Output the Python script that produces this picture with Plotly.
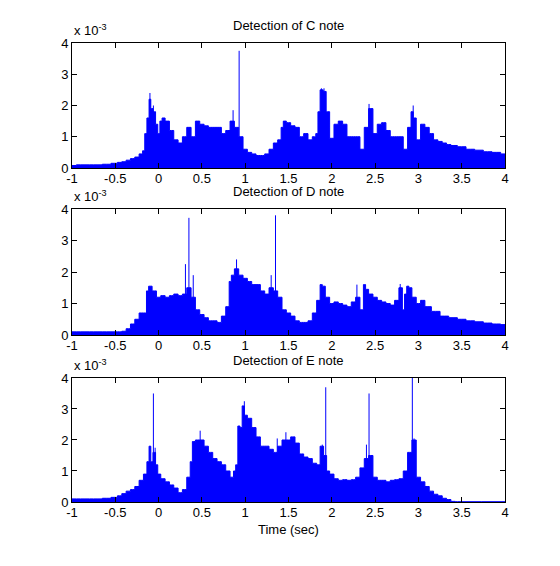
import plotly.graph_objects as go

# amplitudes in units of 1e-3 (axis label carries the x 10^-3)
x_ticks = [-1, -0.5, 0, 0.5, 1, 1.5, 2, 2.5, 3, 3.5, 4]
x_tick_text = ['-1', '-0.5', '0', '0.5', '1', '1.5', '2', '2.5', '3', '3.5', '4']
y_ticks = [0, 1, 2, 3, 4]

# --- C note ---
t_c = [-1.0, -0.9, -0.8, -0.7, -0.6, -0.5, -0.45, -0.4, -0.35, -0.3,
       -0.25, -0.2, -0.17, -0.15, -0.12, -0.1, -0.08, -0.05, -0.02, 0.0,
       0.03, 0.05, 0.1, 0.15, 0.2, 0.25, 0.3, 0.35, 0.4, 0.45,
       0.5, 0.55, 0.6, 0.65, 0.7, 0.75, 0.8, 0.85, 0.9, 0.95,
       1.0, 1.05, 1.1, 1.15, 1.2, 1.25, 1.3, 1.35, 1.4, 1.43,
       1.45, 1.5, 1.55, 1.6, 1.65, 1.7, 1.75, 1.8, 1.83, 1.85,
       1.88, 1.92, 1.95, 2.0, 2.05, 2.1, 2.15, 2.2, 2.25, 2.3,
       2.35, 2.4, 2.45, 2.5, 2.55, 2.6, 2.65, 2.7, 2.75, 2.8,
       2.85, 2.9, 2.93, 2.95, 3.0, 3.05, 3.1, 3.15, 3.2, 3.25,
       3.3, 3.35, 3.4, 3.5, 3.6, 3.7, 3.8, 3.9, 4.0]
c_env = [0.08, 0.1, 0.1, 0.1, 0.12, 0.15, 0.18, 0.2, 0.25, 0.3,
         0.35, 0.45, 0.55, 1.1, 1.6, 2.2, 1.9, 1.8, 1.4, 1.1,
         1.5, 1.6, 1.5, 1.2, 0.9, 0.8, 1.0, 1.3, 1.0, 1.5,
         1.4, 1.35, 1.3, 1.3, 1.3, 1.1, 1.2, 1.5, 1.3, 1.0,
         0.6, 0.5, 0.45, 0.4, 0.4, 0.45, 0.6, 0.8, 0.9, 1.3,
         1.5, 1.45, 1.35, 1.3, 1.0, 1.1, 0.9, 1.0, 1.1, 1.8,
         2.5, 2.45, 1.8, 0.95, 1.4, 1.5, 1.4, 1.0, 1.0, 1.0,
         0.6, 1.3, 1.9, 1.1, 1.4, 1.45, 1.2, 1.0, 1.0, 1.0,
         0.6, 1.3, 1.8, 1.6, 0.9, 1.4, 1.3, 1.1, 0.9, 0.85,
         0.8, 0.75, 0.72, 0.68, 0.6, 0.57, 0.52, 0.5, 0.45]
c_spike_t = [-0.1, -0.06, 0.86, 0.93, 1.88, 1.91, 2.43, 2.94]
c_spike_v = [2.4, 2.0, 1.85, 3.75, 2.55, 2.55, 2.05, 2.0]

# --- D note ---
t_d = [-1.0, -0.9, -0.8, -0.7, -0.6, -0.5, -0.45, -0.4, -0.35, -0.3,
       -0.25, -0.2, -0.15, -0.13, -0.1, -0.05, 0.0, 0.05, 0.1, 0.15,
       0.2, 0.25, 0.3, 0.35, 0.4, 0.45, 0.5, 0.55, 0.6, 0.65,
       0.7, 0.75, 0.8, 0.83, 0.85, 0.9, 0.95, 1.0, 1.05, 1.1,
       1.15, 1.2, 1.25, 1.3, 1.35, 1.4, 1.45, 1.5, 1.55, 1.6,
       1.65, 1.7, 1.75, 1.8, 1.85, 1.88, 1.9, 1.95, 2.0, 2.05,
       2.1, 2.15, 2.2, 2.25, 2.3, 2.35, 2.38, 2.4, 2.45, 2.5,
       2.55, 2.6, 2.65, 2.7, 2.75, 2.8, 2.83, 2.85, 2.88, 2.9,
       2.95, 3.0, 3.05, 3.1, 3.2, 3.3, 3.4, 3.5, 3.6, 3.7,
       3.8, 3.9, 4.0]
d_env = [0.1, 0.1, 0.1, 0.1, 0.1, 0.1, 0.1, 0.12, 0.2, 0.35,
         0.5, 0.7, 0.7, 1.4, 1.55, 1.4, 1.2, 1.25, 1.2, 1.25,
         1.3, 1.25, 1.3, 1.5, 1.2, 0.8, 0.65, 0.55, 0.45, 0.45,
         0.4, 0.6, 0.9, 1.7, 1.9, 2.1, 1.9, 1.8, 1.7, 1.6,
         1.6, 1.4, 1.3, 1.5, 1.4, 1.2, 0.8, 0.7, 0.6, 0.45,
         0.4, 0.4, 0.45, 0.7, 1.1, 1.6, 1.55, 1.2, 1.0, 1.05,
         1.0, 0.95, 0.9, 1.05, 1.2, 0.8, 1.6, 1.45, 1.3, 1.2,
         1.1, 1.05, 1.0, 0.95, 1.1, 1.5, 0.8, 1.3, 1.55, 1.5,
         1.2, 1.0, 1.1, 0.9, 0.75, 0.6, 0.55, 0.5, 0.45, 0.42,
         0.38, 0.35, 0.33]
d_spike_t = [0.31, 0.35, 0.4, 0.9, 1.3, 1.35, 2.29, 2.79]
d_spike_v = [2.25, 3.72, 1.9, 2.4, 1.9, 3.8, 1.6, 1.62]

# --- E note ---
t_e = [-1.0, -0.9, -0.8, -0.7, -0.6, -0.5, -0.45, -0.4, -0.35, -0.3,
       -0.25, -0.2, -0.15, -0.12, -0.1, -0.08, -0.05, -0.02, 0.0, 0.05,
       0.1, 0.15, 0.2, 0.25, 0.3, 0.35, 0.38, 0.4, 0.45, 0.5,
       0.55, 0.6, 0.65, 0.7, 0.75, 0.8, 0.85, 0.88, 0.9, 0.93,
       0.95, 0.98, 1.0, 1.05, 1.1, 1.15, 1.2, 1.25, 1.3, 1.35,
       1.4, 1.45, 1.5, 1.55, 1.6, 1.65, 1.7, 1.75, 1.8, 1.85,
       1.88, 1.93, 1.95, 2.0, 2.05, 2.1, 2.15, 2.2, 2.25, 2.3,
       2.35, 2.4, 2.45, 2.5, 2.55, 2.6, 2.65, 2.7, 2.75, 2.8,
       2.85, 2.9, 2.95, 3.0, 3.05, 3.1, 3.15, 3.2, 3.25, 3.3,
       3.35, 3.4, 3.45, 4.0]
e_env = [0.1, 0.1, 0.1, 0.1, 0.12, 0.15, 0.2, 0.27, 0.35, 0.4,
         0.5, 0.7, 0.9, 1.3, 1.8, 1.3, 1.6, 1.2, 0.9, 0.75,
         0.65, 0.55, 0.45, 0.3, 0.4, 0.8, 1.3, 1.95, 2.0, 2.0,
         1.8, 1.6, 1.4, 1.3, 1.2, 1.0, 0.8, 1.0, 1.2, 2.45,
         2.4, 3.1, 2.8, 2.7, 2.4, 2.1, 1.8, 1.8, 1.7, 1.6,
         1.8, 2.0, 2.0, 2.1, 1.9, 1.55, 1.45, 1.4, 1.25, 1.2,
         1.8, 1.5, 1.0, 0.9, 0.75, 0.7, 0.72, 0.7, 0.72, 0.8,
         1.1, 1.4, 1.5, 0.8, 0.7, 0.7, 0.65, 0.7, 0.72, 0.75,
         1.0, 1.6, 2.0, 0.8, 0.65, 0.5, 0.35, 0.25, 0.2, 0.12,
         0.08, 0.02, 0.01, 0.01]
e_spike_t = [-0.06, -0.04, 0.48, 0.99, 1.37, 1.47, 1.89, 1.93, 2.4, 2.43, 2.93, 2.95]
e_spike_v = [3.5, 1.75, 2.3, 3.25, 2.05, 2.25, 1.85, 3.7, 1.85, 3.5, 4.0, 2.05]

panels = [
    ('Detection of C note', t_c, c_env, c_spike_t, c_spike_v),
    ('Detection of D note', t_d, d_env, d_spike_t, d_spike_v),
    ('Detection of E note', t_e, e_env, e_spike_t, e_spike_v),
]

# plot area: top 43px, bottom 502px in the window (page body adds 8px)
domains = [[0.7277, 1.0], [0.3638, 0.6383], [0.0, 0.2702]]
blue = '#0000ff'

fig = go.Figure()
annotations = []
for i, (title, t, env, st, sv) in enumerate(panels):
    assert len(t) == len(env) and len(st) == len(sv)
    n = '' if i == 0 else str(i + 1)
    fig.add_trace(go.Scatter(x=t, y=env, mode='lines', fill='tozeroy',
                             fillcolor=blue, line=dict(color=blue, width=1, shape='hvh'),
                             xaxis='x' + n, yaxis='y' + n, hoverinfo='skip'))
    # spikes as vertical sticks from zero
    sx, sy = [], []
    for a, b in zip(st, sv):
        sx += [a, a, None]
        sy += [0, b, None]
    fig.add_trace(go.Scatter(x=sx, y=sy, mode='lines',
                             line=dict(color=blue, width=1),
                             xaxis='x' + n, yaxis='y' + n, hoverinfo='skip'))

    axis_common = dict(showline=True, mirror='ticks', linecolor='black', linewidth=1,
                       ticks='inside', ticklen=5, tickcolor='black', showgrid=False,
                       zeroline=False, tickfont=dict(size=13, color='black'))
    fig.layout['xaxis' + n] = dict(domain=[0, 1], anchor='y' + n, range=[-1, 4],
                                   tickvals=x_ticks, ticktext=x_tick_text,
                                   ticklabelstandoff=-2, **axis_common)
    fig.layout['yaxis' + n] = dict(domain=domains[i], anchor='x' + n, range=[0, 4],
                                   tickvals=y_ticks, **axis_common)

    top = domains[i][1]
    annotations.append(dict(text=title, x=0.5, y=top, xref='paper', yref='paper',
                            xanchor='center', yanchor='bottom', yshift=8,
                            showarrow=False, font=dict(size=13)))
    annotations.append(dict(text='x 10<sup>-3</sup>', x=0, y=top, xref='paper', yref='paper',
                            xanchor='left', yanchor='bottom', yshift=3,
                            showarrow=False, font=dict(size=13)))

annotations.append(dict(text='Time (sec)', x=0.5, y=-0.059, xref='paper', yref='paper',
                        xanchor='center', yanchor='middle', showarrow=False,
                        font=dict(size=13)))

fig.update_layout(width=544, height=550, margin=dict(l=64, r=47, t=35, b=56),
                  paper_bgcolor='white', plot_bgcolor='white', showlegend=False,
                  font=dict(family='Liberation Sans', size=13, color='black'),
                  annotations=annotations)

fig.write_html("out.html")
